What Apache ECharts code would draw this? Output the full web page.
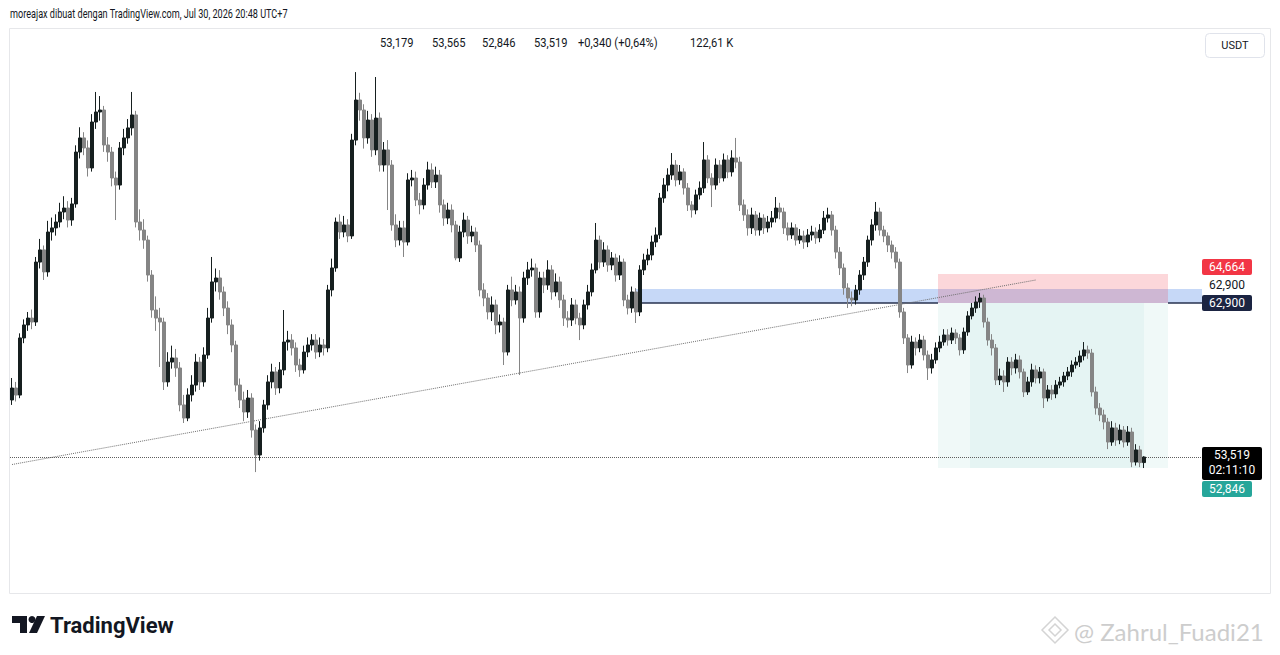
<!DOCTYPE html>
<html><head><meta charset="utf-8">
<script src="https://cdn.jsdelivr.net/npm/echarts@6/dist/echarts.min.js"></script>
<style>html,body{margin:0;padding:0;background:#fff}#c{width:1280px;height:655px}</style>
</head><body><div id="c"></div>
<script>
// Candles: [open, close, low, high] (USDT)
const segA = [
[56.99,57.72,56.69,58.33],[57.72,57.29,56.90,58.09],[57.29,60.77,57.10,61.05],[60.77,61.56,60.45,61.90],[61.56,61.98,61.20,62.35],
[61.98,61.74,61.30,62.50],[61.74,65.39,61.50,65.70],[65.39,66.13,65.00,66.80],[66.13,64.79,64.30,66.40],[64.79,67.22,64.50,67.90],
[67.22,67.47,66.70,68.10],[67.47,67.83,67.00,68.30],[67.83,68.44,67.50,69.00],[68.44,68.68,68.00,69.40],[68.68,67.95,67.50,69.10],
[67.95,68.93,67.60,69.30],[68.93,72.09,68.70,72.50],[72.09,72.95,71.70,73.60],[72.95,72.34,71.90,73.30],[72.34,71.12,70.60,72.80],
[71.12,73.92,70.90,74.40],[73.92,74.53,73.50,75.75],[74.53,74.65,74.00,75.50],[74.65,72.52,72.10,74.90],[72.52,72.09,71.50,73.00],
[72.09,70.51,70.00,72.40],[70.51,70.08,67.95,70.90],[70.08,72.34,69.80,72.70],[72.34,72.95,71.90,73.50],[72.95,73.56,72.60,74.10],
[73.56,74.35,73.10,75.75],[74.35,67.83,67.50,74.60],[67.83,67.34,66.70,68.60],[67.34,66.73,66.20,68.00],[66.73,64.60,64.20,67.00],
[64.60,62.47,62.00,64.90],[62.47,61.98,61.20,63.30],[61.98,61.74,59.00,62.60],[61.74,58.09,57.60,62.00],[58.09,59.30,57.80,59.90],
[59.30,59.55,58.90,60.30],[59.55,58.94,58.40,60.10],[58.94,56.69,56.30,59.30],[56.69,55.89,55.59,57.30],[55.89,57.30,55.70,57.70],
[57.30,57.90,56.90,58.50],[57.90,59.30,57.50,59.80],[59.30,58.09,57.60,59.60],[58.09,59.73,57.80,60.20],[59.73,61.98,59.50,62.60]
];
const segB = [
[61.98,64.18,61.70,65.70],[64.18,64.42,63.60,65.00],[64.42,63.57,63.10,64.90],[63.57,62.59,62.10,63.90],[62.59,61.56,61.00,63.00],
[61.56,60.34,59.90,61.90],[60.34,57.90,57.50,60.60],[57.90,56.99,56.50,58.30],[56.99,56.26,55.70,57.50],[56.26,57.11,55.90,57.60],
[57.11,55.16,54.70,57.40],[55.16,53.64,52.60,55.50],[53.64,55.29,53.30,55.70],[55.29,56.69,55.00,57.00],[56.69,58.09,56.40,58.50],
[58.09,58.70,57.70,59.20],[58.70,57.72,57.30,59.00],[57.72,58.82,57.40,59.30],[58.82,60.52,58.50,62.47],[60.52,60.64,60.00,61.20],
[60.64,60.16,59.70,61.00],[60.16,59.12,58.70,60.50],[59.12,58.82,58.40,59.50],[58.82,59.91,58.60,60.30],[59.91,60.34,59.60,60.80],
[60.34,60.64,60.00,61.00],[60.64,59.91,59.50,61.00],[59.91,60.34,59.60,60.80],[60.34,60.16,59.70,60.70],[60.16,63.69,59.90,64.00],
[63.69,65.03,63.30,65.60],[65.03,67.83,64.80,68.10],[67.83,67.22,66.80,68.30],[67.22,67.65,66.90,68.20],[67.65,66.98,66.60,68.00],
[66.98,72.82,66.80,73.20],[72.82,75.26,72.50,76.96],[75.26,74.65,74.00,75.70],[74.65,72.95,72.30,75.00],[72.95,74.04,72.60,74.60],
[74.04,72.22,71.80,74.40],[72.22,74.16,71.90,76.66],[74.16,71.30,70.90,74.50],[71.30,72.22,70.90,72.70],[72.22,71.30,68.56,72.82],
[71.30,67.65,67.30,71.60],[67.65,66.73,66.30,68.30],[66.73,67.47,66.40,67.90],[67.47,66.61,65.70,67.90],[66.61,70.39,66.40,70.80]
];
const segC = [
[70.39,70.51,70.00,71.00],[70.51,69.17,68.80,70.90],[69.17,68.87,68.30,69.60],[68.87,70.08,68.60,70.50],[70.08,71.00,69.80,71.50],
[71.00,70.27,69.90,71.40],[70.27,70.69,69.90,71.20],[70.69,68.87,68.40,71.00],[68.87,68.07,67.60,69.20],[68.07,68.56,67.70,69.00],
[68.56,67.65,67.20,68.90],[67.65,65.64,65.50,67.90],[65.64,67.22,65.40,67.60],[67.22,67.95,66.90,68.40],[67.95,66.98,66.50,68.20],
[66.98,67.22,66.60,67.60],[67.22,66.43,66.00,67.50],[66.43,63.69,63.30,66.70],[63.69,63.20,62.70,64.10],[63.20,62.35,61.90,63.50],
[62.35,62.78,61.80,63.30],[62.78,61.56,61.00,63.10],[61.56,61.74,61.10,62.20],[61.74,59.91,59.12,62.00],[59.91,63.69,59.70,64.00],
[63.69,63.08,62.70,64.50],[63.08,63.57,62.80,64.00],[63.57,61.98,58.51,63.90],[61.98,64.42,61.70,64.80],[64.42,64.91,64.00,65.40],
[64.91,65.03,64.50,65.60],[65.03,62.35,62.00,65.30],[62.35,64.42,62.00,64.80],[64.42,63.99,63.50,64.80],[63.99,64.91,63.70,65.50],
[64.91,63.57,63.10,65.20],[63.57,64.18,63.30,64.70],[64.18,63.08,62.60,64.50],[63.08,61.98,61.50,63.40],[61.98,61.86,61.40,62.40],
[61.86,62.78,61.50,63.20],[62.78,61.98,61.60,63.10],[61.98,61.56,60.64,62.30],[61.56,62.78,61.30,63.10],[62.78,63.57,62.50,64.00],
[63.57,64.91,63.30,65.30],[64.91,66.73,64.70,67.77],[66.73,65.39,65.00,67.00],[65.39,66.13,65.10,66.60],[66.13,65.21,64.80,66.40]
];
const segD = [
[65.21,65.64,64.90,66.00],[65.64,64.60,64.20,65.90],[64.60,65.39,64.30,65.80],[65.39,63.08,62.70,65.60],[63.08,62.59,62.20,63.40],
[62.59,63.57,62.30,63.90],[63.57,62.35,61.68,63.80],[62.35,64.91,62.10,65.20],[64.91,65.52,64.60,65.90],[65.52,65.82,65.20,66.20],
[65.82,66.61,65.50,67.00],[66.61,67.04,66.30,67.50],[67.04,69.29,66.80,69.60],[69.29,70.08,69.00,70.50],[70.08,70.69,69.70,71.10],
[70.69,71.30,70.40,72.03],[71.30,70.39,70.00,71.60],[70.39,70.88,70.10,71.30],[70.88,69.90,69.50,71.10],[69.90,68.87,68.50,70.20],
[68.87,68.56,68.10,69.10],[68.56,69.48,68.30,69.80],[69.48,69.90,69.20,70.30],[69.90,71.61,69.60,72.70],[71.61,70.51,70.20,71.90],
[70.51,70.08,68.74,70.80],[70.08,71.30,69.80,71.70],[71.30,70.51,70.20,71.60],[70.51,71.61,70.30,72.00],[71.61,70.88,70.50,71.90],
[70.88,71.73,70.60,72.20],[71.73,71.48,71.10,72.95],[71.48,68.87,68.50,71.80],[68.87,68.26,67.90,69.20],[68.26,67.47,67.00,68.60],
[67.47,68.26,67.10,68.70],[68.26,67.34,67.00,68.50],[67.34,68.07,67.00,68.40],[68.07,67.47,67.10,68.30],[67.47,67.83,67.20,68.20],
[67.83,68.07,67.50,68.50],[68.07,68.68,67.80,69.35],[68.68,68.44,68.00,69.00],[68.44,67.47,67.10,68.70],[67.47,67.04,66.70,67.80],
[67.04,67.47,66.80,67.80],[67.47,66.73,66.40,67.70],[66.73,66.98,66.50,67.40],[66.98,66.61,66.20,67.30],[66.61,67.04,66.30,67.40]
];
const segE = [
[67.04,67.22,66.70,67.60],[67.22,66.86,66.50,67.50],[66.86,67.34,66.60,67.70],[67.34,68.07,67.10,68.50],[68.07,68.26,67.80,68.70],
[68.26,67.34,67.00,68.50],[67.34,66.00,65.60,67.60],[66.00,65.03,64.60,66.30],[65.03,63.81,63.40,65.30],[63.81,63.20,62.59,64.10],
[63.20,63.08,62.70,63.60],[63.08,63.69,62.80,64.00],[63.69,64.60,63.40,64.90],[64.60,65.39,64.30,65.70],[65.39,66.73,65.10,67.00],
[66.73,67.65,66.40,68.00],[67.65,68.44,67.30,69.05],[68.44,67.34,67.00,68.70],[67.34,66.98,66.60,67.60],[66.98,66.43,66.00,67.20],
[66.43,66.00,65.60,66.70],[66.00,65.39,65.00,66.30],[65.39,62.35,62.00,65.60],[62.35,60.77,60.40,62.60],[60.77,59.12,58.63,61.00],
[59.12,60.52,58.90,60.90],[60.52,60.16,59.70,60.80],[60.16,60.64,59.90,61.00],[60.64,59.73,59.40,60.90],[59.73,58.94,58.21,60.00],
[58.94,59.43,58.60,59.80],[59.43,60.16,59.20,60.50],[60.16,60.52,59.90,60.90],[60.52,60.95,60.30,61.30],[60.95,60.64,60.30,61.30],
[60.64,61.07,60.40,61.40],[61.07,60.77,60.40,61.30],[60.77,60.04,59.70,61.00],[60.04,61.13,59.80,61.40],[61.13,62.11,60.90,62.40],
[62.11,62.59,61.90,62.90],[62.59,62.96,62.30,63.30],[62.96,63.20,62.60,63.51],[63.20,61.74,61.40,63.40],[61.74,60.64,60.30,62.00],
[60.64,60.16,59.70,61.00],[60.16,58.21,57.90,60.40],[58.21,58.45,57.90,58.90],[58.45,58.09,57.48,58.80],[58.09,59.30,57.80,59.60]
];
const segF = [
[59.30,58.94,58.50,59.60],[58.94,59.43,58.60,59.80],[59.43,58.70,58.30,59.70],[58.70,57.48,57.17,58.90],[57.48,58.09,57.30,58.40],
[58.09,58.82,57.80,59.20],[58.82,58.33,58.00,59.10],[58.33,58.70,58.00,59.00],[58.70,57.11,56.50,58.90],[57.11,57.60,56.90,57.90],
[57.60,57.36,57.00,57.90],[57.36,57.90,57.10,58.20],[57.90,58.09,57.70,58.40],[58.09,58.45,57.80,58.70],[58.45,58.70,58.20,59.00],
[58.70,59.12,58.40,59.40],[59.12,59.30,58.90,59.60],[59.30,59.67,59.00,60.00],[59.67,60.04,59.40,60.52],[60.04,59.85,59.50,60.30],
[59.85,57.48,57.20,60.10],[57.48,56.50,56.10,57.80],[56.50,56.08,55.70,56.80],[56.08,55.65,55.20,56.40],[55.65,54.43,54.00,55.90],
[54.43,55.29,54.20,55.70],[55.29,54.55,54.20,55.60],[54.55,55.16,54.30,55.50],[55.16,54.43,54.10,55.40],[54.43,55.04,54.20,55.40],
[55.04,53.21,52.90,55.30],[53.21,53.95,53.00,54.30],[53.95,53.179,52.90,54.20],[53.179,53.519,52.846,53.565]
];
const candles = segA.concat(segB, segC, segD, segE, segF);

// Drawing levels (USDT)
const entryPrice = 62.900;
const stopPrice = 64.664;
const targetPrice = 52.846;
const zoneTop = 63.750;
const trendStart = 53.06;   // trend line value at first bar
const trendEnd = 64.30;     // trend line value at its last bar
const lastVolume = '122,61 K';
const countdown = '02:11:10';
const headerText = 'moreajax dibuat dengan TradingView.com, Jul 30, 2026 20:48 UTC+7';

// Bar indices of drawings
const zoneStartBar = 156;
const posStartBar = 232;
const posFillBar = 240;
const posEndBar = 289;
const trendEndBar = 256;
const padSlots = 14;
const categories = candles.map((_, i) => String(i)).concat(Array.from({length: padSlots}, (_, i) => 'e' + i));

const UP = '#161f1f', DOWN = '#858585';
const chart = echarts.init(document.getElementById('c'), null, {renderer: 'svg'});
const last = candles[candles.length - 1];
const prev = candles[candles.length - 2];
const fmt = v => v.toFixed(3).replace('.', ',');

chart.setOption({
  animation: false,
  grid: {left: 10, right: 78, top: 28, bottom: 62},
  xAxis: {type: 'category', data: categories, show: false, boundaryGap: true},
  yAxis: {type: 'value', min: 45.236, max: 79.645, show: false},
  series: [{
    type: 'candlestick', data: candles, barWidth: 3, z: 5,
    itemStyle: {color: UP, color0: DOWN, borderColor: UP, borderColor0: DOWN, borderWidth: 1},
    markLine: {
      silent: true, symbol: ['none', 'none'], label: {show: false}, animation: false,
      lineStyle: {type: 'dotted', color: '#6f6f6f', width: 1},
      data: [
        [{coord: [0, trendStart]}, {coord: [trendEndBar, trendEnd]}],
        {yAxis: last[1], lineStyle: {type: 'dotted', color: '#5f5f5f', width: 1}}
      ]
    }
  }]
});

function P(i, p) { return chart.convertToPixel({xAxisIndex: 0, yAxisIndex: 0}, [i, p]); }
const slotW = P(1, entryPrice)[0] - P(0, entryPrice)[0];
const xC = i => P(i, entryPrice)[0];
const yOf = p => P(0, p)[1];
const gridRight = xC(categories.length - 1) + slotW / 2;
const posL = xC(posStartBar) - slotW / 2;
const posR = xC(posEndBar);
const fillL = xC(posFillBar) - slotW / 2;
const fillR = xC(candles.length - 1);
const zoneL = xC(zoneStartBar);

const yEntry = yOf(entryPrice), yStop = yOf(stopPrice), yTarget = yOf(targetPrice), yZone = yOf(zoneTop), yLast = yOf(last[1]);
const F = "Roboto, 'Noto Sans', sans-serif";

function txt(x, y, text, font, fill, align, sx) {
  return {type: 'text', x: x, y: y, z: 50, scaleX: sx || 1, style: {text: text, font: font, fill: fill, textAlign: align || 'left', align: align || 'left', textVerticalAlign: 'middle', verticalAlign: 'middle'}};
}
function boxLabel(y, h, w, bg, lines) {
  const els = [{type: 'rect', z: 40, shape: {x: gridRight, y: y, width: w, height: h, r: 2}, style: {fill: bg}}];
  lines.forEach((t, k) => els.push(txt(gridRight + w / 2, y + 8 + k * 15, t, '12px ' + F, '#fff', 'center')));
  return els;
}

const g = [];
// frame
g.push({type: 'rect', z: 0, shape: {x: 9.5, y: 28.5, width: 1261, height: 565}, style: {fill: 'none', stroke: '#e6e7ea', lineWidth: 1}});
// position: target area
g.push({type: 'rect', z: 1, shape: {x: posL, y: yEntry, width: posR - posL, height: yTarget - yEntry}, style: {fill: 'rgba(38,166,154,0.07)'}});
g.push({type: 'rect', z: 1, shape: {x: fillL, y: yEntry, width: fillR - fillL, height: yTarget - yEntry}, style: {fill: 'rgba(38,166,154,0.05)'}});
// blue zone
g.push({type: 'rect', z: 1, shape: {x: zoneL, y: yZone, width: gridRight - zoneL, height: yEntry - yZone}, style: {fill: '#c6d8f7'}});
// stop area
g.push({type: 'rect', z: 2, shape: {x: posL, y: yStop, width: posR - posL, height: yEntry - yStop}, style: {fill: 'rgba(242,54,69,0.2)'}});
// zone bottom line
g.push({type: 'line', z: 2, shape: {x1: zoneL, y1: yEntry, x2: posL, y2: yEntry}, style: {stroke: '#27324f', lineWidth: 1.5}});
g.push({type: 'line', z: 2, shape: {x1: posR, y1: yEntry, x2: gridRight, y2: yEntry}, style: {stroke: '#27324f', lineWidth: 1.5}});

// price labels
g.push(...boxLabel(yEntry - 44, 16, 50, '#f23645', [fmt(stopPrice)]));
g.push(txt(gridRight + 25, yEntry - 18, fmt(entryPrice), '12px ' + F, '#131722', 'center'));
g.push(...boxLabel(yEntry - 8, 16, 50, '#1b2442', [fmt(entryPrice)]));
g.push(...boxLabel(yLast - 10, 33, 60, '#000000', [fmt(last[1]), countdown]));
g.push(...boxLabel(yLast + 24, 16, 50, '#26a69a', [fmt(targetPrice)]));

// USDT button
g.push({type: 'rect', z: 40, shape: {x: 1205.5, y: 33.5, width: 59, height: 24, r: 4}, style: {fill: '#fff', stroke: '#e0e3eb', lineWidth: 1}});
g.push(txt(1235, 45.5, 'USDT', '11px ' + F, '#131722', 'center'));

// header
g.push(txt(10, 14, headerText, '12px ' + F, '#131722', 'left', 0.76));
const chg = last[1] - prev[1];
const pct = chg / prev[1] * 100;
const legend = [[380, fmt(last[0])], [432, fmt(last[3])], [482, fmt(last[2])], [534, fmt(last[1])],
  [578, (chg >= 0 ? '+' : '') + fmt(chg) + ' (' + (chg >= 0 ? '+' : '') + pct.toFixed(2).replace('.', ',') + '%)'], [690, lastVolume]];
legend.forEach(([x, t]) => g.push(txt(x, 43, t, '12px ' + F, '#131722', 'left', 0.93)));

// TradingView logo
g.push({type: 'polygon', z: 40, shape: {points: [[12, 616], [27, 616], [27, 633], [20, 633], [20, 623], [12, 623]]}, style: {fill: '#131722'}});
g.push({type: 'circle', z: 40, shape: {cx: 32, cy: 619.5, r: 3.5}, style: {fill: '#131722'}});
g.push({type: 'polygon', z: 40, shape: {points: [[37, 616], [45, 616], [37, 633], [29, 633]]}, style: {fill: '#131722'}});
g.push(txt(50, 625, 'TradingView', 'bold 22px ' + F, '#131722'));

// watermark
g.push({type: 'polygon', z: 40, shape: {points: [[1055, 617], [1068, 630], [1055, 643], [1042, 630]]}, style: {fill: 'none', stroke: '#d4d4d4', lineWidth: 1.5}});
g.push({type: 'polygon', z: 40, shape: {points: [[1055, 624], [1061, 630], [1055, 636], [1049, 630]]}, style: {fill: 'none', stroke: '#d4d4d4', lineWidth: 1.5}});
g.push(txt(1074, 631, '@ Zahrul_Fuadi21', '24px Lato, ' + F, '#cdcdcd'));

chart.setOption({graphic: {elements: g}});
</script>
</body></html>
